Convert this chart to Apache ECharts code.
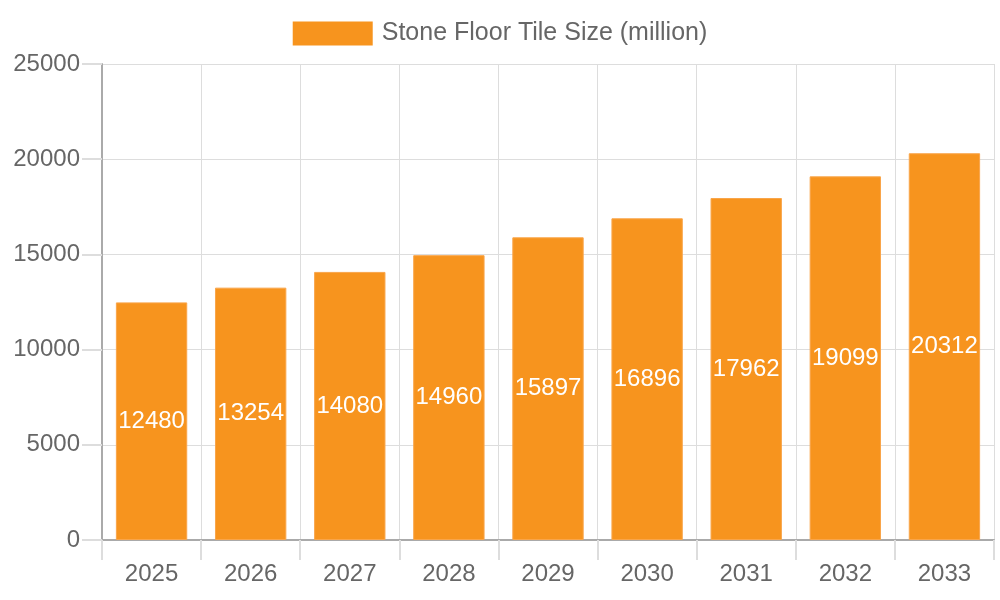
<!DOCTYPE html>
<html>
<head>
<meta charset="utf-8">
<script src="https://cdn.jsdelivr.net/npm/echarts@6/dist/echarts.min.js"></script>
<style>
  html, body { margin: 0; padding: 0; background: #fff; }
  #chart { width: 1000px; height: 600px; }
</style>
</head>
<body>
<div id="chart"></div>
<script>
// Stone floor tile market size, bar per year with value inside
const years = ["2025", "2026", "2027", "2028", "2029", "2030", "2031", "2032", "2033"]
const tileSize = [12480, 13254, 14080, 14960, 15897, 16896, 17962, 19099, 20312]
const seriesName = "Stone Floor Tile Size (million)"

const font = "Liberation Sans, Arial, sans-serif"
const chart = echarts.init(document.getElementById("chart"), null, { renderer: "canvas" })

chart.setOption({
  backgroundColor: "#fff",
  animation: false,
  legend: {
    top: 16,
    left: "center",
    itemWidth: 80,
    itemHeight: 24,
    itemGap: 12,
    icon: "rect",
    itemStyle: { borderWidth: 0 },
    textStyle: { color: "#666", fontSize: 25, fontFamily: font, padding: [0, 0, 0, 4] }
  },
  grid: { left: 102, right: 6, top: 64, bottom: 60, containLabel: false },
  xAxis: {
    type: "category",
    data: years,
    boundaryGap: true,
    axisLine: { lineStyle: { color: "#aaa", width: 2 } },
    axisTick: { show: true, length: 20, lineStyle: { color: "#ddd", width: 2 } },
    splitLine: { show: true, lineStyle: { color: "#ddd", width: 1 } },
    axisLabel: { color: "#666", fontSize: 24, fontFamily: font, margin: 22 }
  },
  yAxis: {
    type: "value",
    min: 0,
    max: 25000,
    interval: 5000,
    axisLine: { show: true, lineStyle: { color: "#aaa", width: 2 } },
    axisTick: { show: true, length: 20, lineStyle: { color: "#ddd", width: 2 } },
    splitLine: { show: true, lineStyle: { color: "#ddd", width: 1 } },
    axisLabel: { color: "#666", fontSize: 24, fontFamily: font, margin: 22, formatter: (v) => String(v) }
  },
  series: [{
    name: seriesName,
    type: "bar",
    data: tileSize,
    barWidth: "72%",
    itemStyle: { color: "#F7941E", borderColor: "#F9A54A", borderWidth: 1 },
    label: {
      show: true,
      position: "inside",
      color: "#fff",
      fontSize: 24,
      fontFamily: font
    }
  }]
})
</script>
</body>
</html>
